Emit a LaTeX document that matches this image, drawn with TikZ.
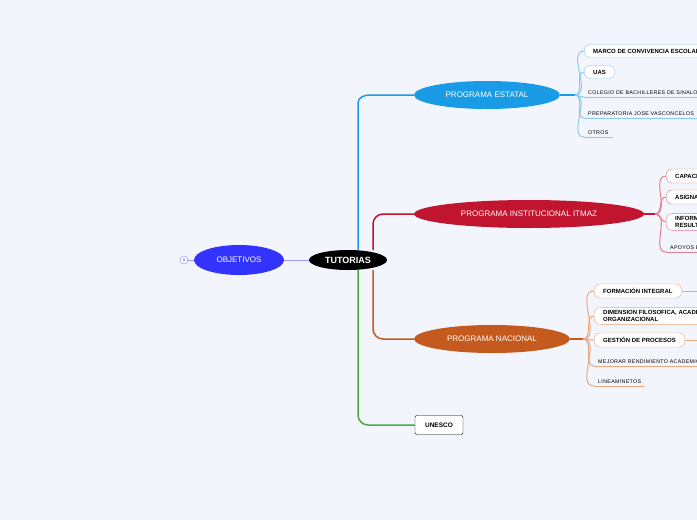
\documentclass[tikz,border=0pt]{standalone}
\usepackage{fontspec}
\setmainfont{Liberation Sans}
\usetikzlibrary{shapes.geometric}
\definecolor{bg}{HTML}{F3F5FD}
\definecolor{cest}{HTML}{1A9BE6}
\definecolor{cins}{HTML}{C0142F}
\definecolor{cnac}{HTML}{C55A1E}
\definecolor{cobj}{HTML}{3333FF}
\definecolor{cuns}{HTML}{4DAA3C}
\definecolor{lest}{HTML}{8CC8F0}
\definecolor{lins}{HTML}{E08090}
\definecolor{lnac}{HTML}{E8A882}
\begin{document}
\begin{tikzpicture}[x=1pt,y=-1pt,
  main/.style={ellipse,minimum height=28pt,inner sep=0pt,text=white,font=\fontsize{8}{9}\selectfont},
  box/.style={draw,rounded corners=6pt,fill=white,font=\bfseries\fontsize{6}{6.5}\selectfont,anchor=west,inner xsep=9pt,inner ysep=3pt,align=left},
  leaf/.style={anchor=south west,inner xsep=4pt,inner ysep=2pt,font=\addfontfeatures{LetterSpace=6}\fontsize{5.3}{6}\selectfont},
  conn/.style={line width=1pt}]
\clip (0,0) rectangle (697,520);
\fill[bg] (0,0) rectangle (697,520);
% main nodes
\node[main,fill=black,minimum width=78pt,minimum height=20pt,font=\bfseries\fontsize{9}{10}\selectfont] (t) at (348,260) {TUTORIAS};
\node[main,fill=cobj,minimum width=90pt,minimum height=30pt] (obj) at (239,260) {OBJETIVOS};
\node[circle,draw=cobj!60,fill=white,minimum size=8pt,inner sep=0pt,font=\fontsize{4}{4}\selectfont,text=cobj] (c0) at (184,260) {0};
\node[main,fill=cest,minimum width=146pt] (est) at (487,95) {PROGRAMA ESTATAL};
\node[main,fill=cins,minimum width=230pt] (ins) at (529,214) {PROGRAMA INSTITUCIONAL ITMAZ};
\node[main,fill=cnac,minimum width=156pt] (nac) at (492,339) {PROGRAMA NACIONAL};
\node[draw,rounded corners=2pt,fill=white,minimum width=48pt,minimum height=19pt,font=\bfseries\fontsize{6.5}{7}\selectfont] (un) at (439,425) {UNESCO};
% connectors from TUTORIAS
\draw[cobj!50,conn] (c0) -- (obj);
\draw[cobj!50,conn] (obj) -- (t);
\draw[cest,line width=1.5pt] (t.north -| 358,0) -- (358,103) to[out=90,in=180] (370,95) -- (est.west);
\draw[cins,line width=1.5pt] (t.north -| 373,0) -- (373,224) to[out=90,in=180] (383,214) -- (ins.west);
\draw[cnac,line width=1.5pt] (t.south -| 373,0) -- (373,329) to[out=-90,in=180] (383,339) -- (nac.west);
\draw[cuns,line width=1.5pt] (t.south -| 358,0) -- (358,415) to[out=-90,in=180] (368,425) -- (un.west);
% estatal children
\coordinate (be) at (575,95);
\draw[cest,line width=1.5pt] (est.east) -- (be);
\begin{scope}[every node/.append style={draw=lest}]
\node[box,minimum height=13pt] (e1) at (584,51) {MARCO DE CONVIVENCIA ESCOLAR};
\node[box,minimum height=13pt] (e2) at (584,72) {UAS};
\end{scope}
\node[leaf] (e3) at (584,97) {COLEGIO DE BACHILLERES DE SINALOA};
\node[leaf] (e4) at (584,118) {PREPARATORIA JOSE VASCONCELOS};
\node[leaf] (e5) at (584,137) {OTROS};
\foreach \n in {e3,e4,e5} \draw[lest,conn] (\n.south west) -- (\n.south east);
\foreach \n in {e1,e2} \draw[lest,conn] (be) to[out=0,in=180] (\n.west);
\foreach \n in {e3,e4,e5} \draw[lest,conn] (be) to[out=0,in=180] (\n.south west);
% institutional children
\coordinate (bi) at (655,214);
\draw[cins,line width=1.5pt] (ins.east) -- (bi);
\begin{scope}[every node/.append style={draw=lins}]
\node[box,minimum height=14pt] (i1) at (666,176) {CAPACITACIÓN};
\node[box,minimum height=14pt] (i2) at (666,197) {ASIGNACIÓN};
\node[box] (i3) at (666,222) {INFORME DE\\RESULTADOS};
\end{scope}
\node[leaf] (i4) at (666,252) {APOYOS ECONOMICOS};
\draw[lins,conn] (i4.south west) -- (i4.south east);
\foreach \n in {i1,i2,i3} \draw[lins,conn] (bi) to[out=0,in=180] (\n.west);
\draw[lins,conn] (bi) to[out=0,in=180] (i4.south west);
% nacional children
\coordinate (bn) at (583,339);
\draw[cnac,line width=1.5pt] (nac.east) -- (bn);
\begin{scope}[every node/.append style={draw=lnac}]
\node[box,minimum height=14pt] (n1) at (594,291) {FORMACIÓN INTEGRAL};
\node[box] (n2) at (594,316) {DIMENSION FILOSOFICA, ACADEMICA Y\\ORGANIZACIONAL};
\node[box,minimum height=14pt] (n3) at (594,340) {GESTIÓN DE PROCESOS};
\end{scope}
\node[leaf] (n4) at (594,366) {MEJORAR RENDIMIENTO ACADEMICO};
\node[leaf] (n5) at (594,386) {LINEAMINETOS};
\foreach \n in {n4,n5} \draw[lnac,conn] (\n.south west) -- (\n.south east);
\foreach \n in {n1,n2,n3} \draw[lnac,conn] (bn) to[out=0,in=180] (\n.west);
\foreach \n in {n4,n5} \draw[lnac,conn] (bn) to[out=0,in=180] (\n.south west);
\coordinate (n1r) at (705,291);
\coordinate (n3r) at (705,340);
\draw[lnac,conn] (n1.east) -- (n1r);
\draw[lnac,conn] (n3.east) -- (n3r);
\end{tikzpicture}
\end{document}
